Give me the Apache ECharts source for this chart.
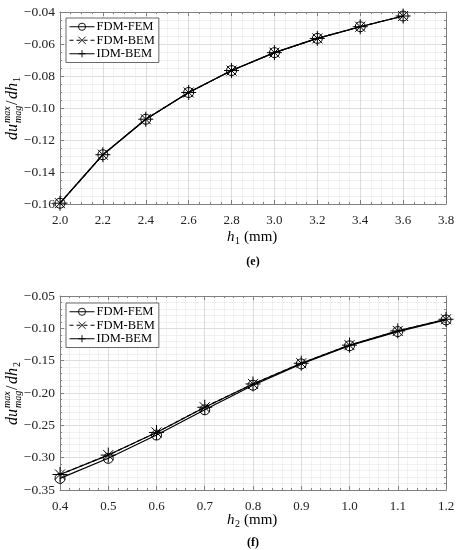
<!DOCTYPE html>
<html><head><meta charset="utf-8">
<script src="https://cdn.jsdelivr.net/npm/echarts@6/dist/echarts.min.js"></script>
<style>html,body{margin:0;padding:0;background:#fff}#c{width:459px;height:550px}</style>
</head><body><div id="c"></div>
<script>
// Panel (e): derivative wrt h1
const h1 = [2.0, 2.2, 2.4, 2.6, 2.8, 3.0, 3.2, 3.4, 3.6];
const e_fdmFem = [-0.1595, -0.1292, -0.1070, -0.0903, -0.0766, -0.0654, -0.0565, -0.0492, -0.0425];
const e_fdmBem = [-0.1595, -0.1292, -0.1070, -0.0903, -0.0766, -0.0654, -0.0565, -0.0492, -0.0425];
const e_idmBem = [-0.1595, -0.1292, -0.1070, -0.0903, -0.0766, -0.0654, -0.0565, -0.0492, -0.0425];
// Panel (f): derivative wrt h2
const h2 = [0.4, 0.5, 0.6, 0.7, 0.8, 0.9, 1.0, 1.1, 1.2];
const f_fdmFem = [-0.332, -0.301, -0.265, -0.226, -0.188, -0.155, -0.127, -0.105, -0.087];
const f_fdmBem = [-0.326, -0.296, -0.261, -0.222, -0.186, -0.154, -0.126, -0.104, -0.086];
const f_idmBem = [-0.326, -0.296, -0.261, -0.222, -0.186, -0.154, -0.126, -0.104, -0.086];
const seriesNames = ['FDM-FEM', 'FDM-BEM', 'IDM-BEM'];

const SERIF = 'Liberation Serif';
const MINUS = '\u2212';
function fmt(d){ return v => { const s = Number(v).toFixed(d); return s.replace('-', MINUS); }; }

function zip(xs, ys){ return xs.map((x,i)=>[x, ys[i]]); }

const symCircle = 'path://M10,5A5,5 0 1 1 0,5A5,5 0 1 1 10,5Z';
const symCross = 'path://M0,0L10,10M10,0L0,10';
const symPlus = 'path://M5,0L5,10M0,5L10,5';
const NOFILL = 'rgba(0,0,0,0)';

function mkSeries(xi, yi, fem, fbem, ibem){
  return [
    {name: seriesNames[0], type:'line', xAxisIndex:xi, yAxisIndex:yi, data: zip(...fem),
     symbol:symCircle, symbolSize:10, lineStyle:{color:'#000', width:1.2, type:'solid'},
     itemStyle:{color:NOFILL, borderColor:'#000', borderWidth:1}, animation:false, z:3},
    {name: seriesNames[1], type:'line', xAxisIndex:xi, yAxisIndex:yi, data: zip(...fbem),
     symbol:symCross, symbolSize:10, lineStyle:{color:'#000', width:1.2, type:[4,3]},
     itemStyle:{color:NOFILL, borderColor:'#000', borderWidth:1}, animation:false, z:4},
    {name: seriesNames[2], type:'line', xAxisIndex:xi, yAxisIndex:yi, data: zip(...ibem),
     symbol:symPlus, symbolSize:15, lineStyle:{color:'#000', width:1.2, type:'solid'},
     itemStyle:{color:NOFILL, borderColor:'#000', borderWidth:1}, animation:false, z:5}
  ];
}

const axisLineC = '#808080';
function baseAxis(extra){
  return Object.assign({
    type:'value',
    axisLine:{show:true, onZero:false, lineStyle:{color:axisLineC, width:1}},
    axisTick:{show:true, inside:true, length:4, lineStyle:{color:axisLineC}},
    minorTick:{show:true, length:2, lineStyle:{color:axisLineC}},
    splitLine:{show:true, lineStyle:{color:'#d4d4d4', width:0.8}},
    minorSplitLine:{show:true, lineStyle:{color:'#e8e8e8', width:0.6}},
    axisLabel:{color:'#222', fontFamily:SERIF, fontSize:13}
  }, extra);
}
function mirrorAxis(extra){
  return Object.assign({
    type:'value',
    axisLine:{show:true, onZero:false, lineStyle:{color:axisLineC, width:1}},
    axisTick:{show:true, inside:true, length:4, lineStyle:{color:axisLineC}},
    minorTick:{show:true, length:2, lineStyle:{color:axisLineC}},
    splitLine:{show:false}, minorSplitLine:{show:false},
    axisLabel:{show:false}
  }, extra);
}

function yLabel(cx, cy, subIdx){
  const main = 'italic 16px ' + SERIF;
  const small = 'italic 10px ' + SERIF;
  return {
    type:'group', x:cx, y:cy, rotation:Math.PI/2, silent:true,
    children:[
      {type:'text', x:-32, y:0, style:{text:'du', font:main, fill:'#000', verticalAlign:'middle'}},
      {type:'text', x:-15, y:-6, style:{text:'max', font:small, fill:'#000', verticalAlign:'middle'}},
      {type:'text', x:-15, y:5, style:{text:'mag', font:small, fill:'#000', verticalAlign:'middle'}},
      {type:'text', x:3, y:0, style:{text:'/', font:'16px ' + SERIF, fill:'#000', verticalAlign:'middle'}},
      {type:'text', x:9, y:0, style:{text:'dh', font:main, fill:'#000', verticalAlign:'middle'}},
      {type:'text', x:26, y:4, style:{text:subIdx, font:'10px ' + SERIF, fill:'#000', verticalAlign:'middle'}}
    ]
  };
}
function xLabel(cx, cy, subIdx){
  return {
    type:'group', x:cx, y:cy, silent:true,
    children:[
      {type:'text', x:-26, y:0, style:{text:'h', font:'italic 15px ' + SERIF, fill:'#000', verticalAlign:'middle'}},
      {type:'text', x:-18, y:4, style:{text:subIdx, font:'10px ' + SERIF, fill:'#000', verticalAlign:'middle'}},
      {type:'text', x:-9, y:0, style:{text:'(mm)', font:'15px ' + SERIF, fill:'#000', verticalAlign:'middle'}}
    ]
  };
}

function legendOf(top){
  return {
    data: seriesNames, orient:'vertical', left:66, top:top,
    itemWidth:25, itemHeight:9, itemGap:0, padding:[2,4,2,3],
    backgroundColor:'#fff', borderColor:'#444', borderWidth:0.8, borderRadius:0,
    itemStyle:{borderWidth:0.9},
    lineStyle:{width:1},
    textStyle:{fontFamily:SERIF, fontSize:12.5, lineHeight:13.5, color:'#000', padding:[0,0,0,-3]},
    selectedMode:false
  };
}

const chart = echarts.init(document.getElementById('c'), null, {renderer:'canvas'});
chart.setOption({
  backgroundColor:'#fff',
  animation:false,
  grid:[
    {left:60, right:13, top:12, height:192},
    {left:60, right:13, top:296, height:194}
  ],
  xAxis:[
    baseAxis({gridIndex:0, min:2.0, max:3.8, interval:0.2, minorTick:{show:true, splitNumber:4, length:2, lineStyle:{color:axisLineC}}, axisLabel:{color:'#222', fontFamily:SERIF, fontSize:13, margin:10, formatter:fmt(1)}}),
    baseAxis({gridIndex:1, min:0.4, max:1.2, interval:0.1, minorTick:{show:true, splitNumber:5, length:2, lineStyle:{color:axisLineC}}, axisLabel:{color:'#222', fontFamily:SERIF, fontSize:13, margin:10, formatter:fmt(1)}}),
    mirrorAxis({gridIndex:0, position:'top', min:2.0, max:3.8, interval:0.2, minorTick:{show:true, splitNumber:4, length:2, lineStyle:{color:axisLineC}}}),
    mirrorAxis({gridIndex:1, position:'top', min:0.4, max:1.2, interval:0.1, minorTick:{show:true, splitNumber:5, length:2, lineStyle:{color:axisLineC}}})
  ],
  yAxis:[
    baseAxis({gridIndex:0, min:-0.16, max:-0.04, interval:0.02, minorTick:{show:true, splitNumber:4, length:2, lineStyle:{color:axisLineC}}, axisLabel:{color:'#222', fontFamily:SERIF, fontSize:13.5, margin:5, formatter:fmt(2)}}),
    baseAxis({gridIndex:1, min:-0.35, max:-0.05, interval:0.05, minorTick:{show:true, splitNumber:5, length:2, lineStyle:{color:axisLineC}}, axisLabel:{color:'#222', fontFamily:SERIF, fontSize:13.5, margin:5, formatter:fmt(2)}}),
    mirrorAxis({gridIndex:0, position:'right', min:-0.16, max:-0.04, interval:0.02, minorTick:{show:true, splitNumber:4, length:2, lineStyle:{color:axisLineC}}}),
    mirrorAxis({gridIndex:1, position:'right', min:-0.35, max:-0.05, interval:0.05, minorTick:{show:true, splitNumber:5, length:2, lineStyle:{color:axisLineC}}})
  ],
  legend:[legendOf(18), legendOf(303)],
  series:[
    ...mkSeries(0, 0, [h1, e_fdmFem], [h1, e_fdmBem], [h1, e_idmBem]),
    ...mkSeries(1, 1, [h2, f_fdmFem], [h2, f_fdmBem], [h2, f_idmBem])
  ],
  graphic:[
    yLabel(13, 108, '1'),
    yLabel(13, 393, '2'),
    xLabel(253, 237, '1'),
    xLabel(253, 520, '2'),
    {type:'text', x:253, y:262, silent:true, style:{text:'(e)', font:'bold 12px ' + SERIF, fill:'#000', align:'center', verticalAlign:'middle'}},
    {type:'text', x:253, y:543, silent:true, style:{text:'(f)', font:'bold 12px ' + SERIF, fill:'#000', align:'center', verticalAlign:'middle'}}
  ]
});
</script></body></html>
